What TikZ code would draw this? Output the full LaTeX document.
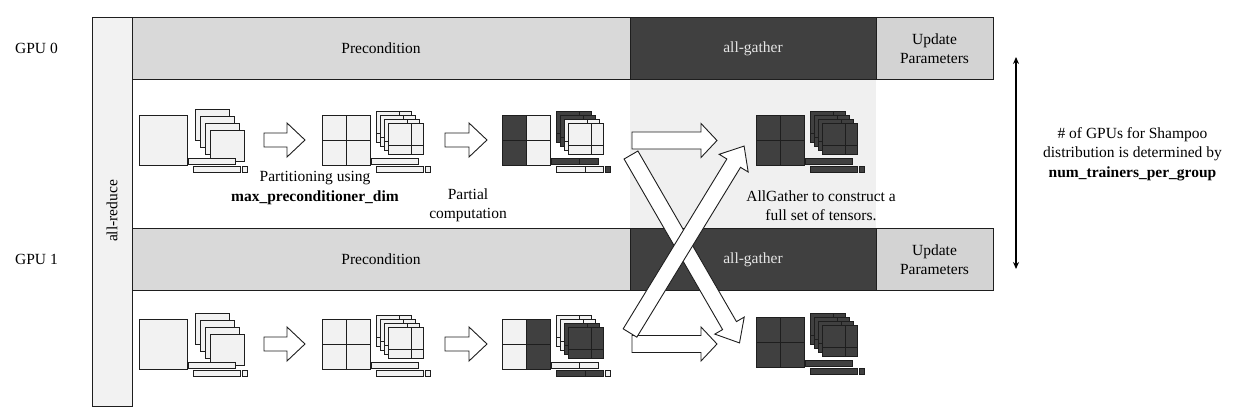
\documentclass[tikz,border=0pt]{standalone}
\usepackage{fontspec}
\setmainfont{Liberation Serif}
\usetikzlibrary{arrows.meta}
\definecolor{lt}{HTML}{F2F2F2}
\definecolor{dk}{HTML}{404040}
\definecolor{bandc}{HTML}{D9D9D9}
\definecolor{updc}{HTML}{D3D3D3}
\definecolor{regc}{HTML}{F0F0F0}
\definecolor{edge}{HTML}{1E1E1E}
\definecolor{agtext}{HTML}{E6E6E6}
\tikzset{
  box/.style={draw=edge,line width=0.9pt},
  lab/.style={font=\fontsize{15.5}{19.5}\selectfont, align=center, inner sep=0pt},
  blk/.style={draw=edge, fill=white, line width=0.9pt, line join=miter},
}
% block arrow: x y angle length bodyhalf headhalf headlen
\newcommand{\barrow}[7]{%
  \begin{scope}[shift={(#1,#2)},rotate=#3]
    \draw[blk] (0,-#5) -- ({#4-#7},-#5) -- ({#4-#7},-#6) -- (#4,0) -- ({#4-#7},#6) -- ({#4-#7},#5) -- (0,#5) -- cycle;
  \end{scope}}
% bars: X Y c1 c2 csmall
\newcommand{\tbars}[5]{%
  \draw[box,fill=#3] (#1+49,#2-0.5) rectangle (#1+96,#2-6.5);
  \draw[box,fill=#4] (#1+54,#2+7) rectangle (#1+101,#2+1);
  \draw[box,fill=#5] (#1+103,#2+7) rectangle (#1+108,#2+1);}
\newcommand{\tbarsplit}[2]{%
  \draw[box] (#1+77,#2-0.5) -- (#1+77,#2-6.5);
  \draw[box] (#1+83,#2+7) -- (#1+83,#2+1);}
% big square plain
\newcommand{\bigplain}[2]{\draw[box,fill=lt] (#1,#2) rectangle (#1+48,#2-50);}
% big square quadrants: X Y leftcolour rightcolour
\newcommand{\bigq}[4]{%
  \draw[box,fill=#3] (#1,#2) rectangle (#1+24,#2-50);
  \draw[box,fill=#4] (#1+24,#2) rectangle (#1+48,#2-50);
  \draw[box] (#1,#2-25) -- (#1+48,#2-25);}
% plain stack
\newcommand{\plstack}[2]{%
  \foreach \i in {0,...,3}{\draw[box,fill=lt] ({#1+56+5.3*\i},{#2-25+7*\i}) rectangle ++(34,-31);}}
% partitioned square
\newcommand{\psq}[3]{%
  \draw[box,fill=#3] (#1,#2) rectangle ++(35,-31);
  \draw[box] (#1+23,#2) -- ++(0,-31);
  \draw[box] (#1,#2-9) -- ++(35,0);}
\newcommand{\pstack}[6]{%
  \psq{#1+54}{#2-23}{#3}\psq{#1+58.3}{#2-18.7}{#4}\psq{#1+62.6}{#2-14.4}{#5}\psq{#1+66.9}{#2-10.1}{#6}}

\begin{document}
\begin{tikzpicture}[x=1pt,y=-1pt]
\useasboundingbox (0,0) rectangle (1238,419);
% light region of all-gather column
\fill[regc] (630,80) rectangle (876,228);
% all-reduce column
\draw[box,fill=lt] (92,17) rectangle (132,406);
\node[lab,rotate=90] (ar) at (112,211) {all-reduce};
% bands
\foreach \y/\g in {17/0,228/1}{
  \draw[box,fill=bandc] (132,\y) rectangle (630,\y+62.5);
  \draw[box,fill=dk] (630,\y) rectangle (876,\y+62.5);
  \draw[box,fill=updc] (876,\y) rectangle (993,\y+62.5);
  \node[lab] (pre\g) at (381,\y+31.5) {Precondition};
  \node[lab,text=agtext] (ag\g) at (753,\y+31.5) {all-gather};
  \node[lab] (up\g) at (934.5,\y+31.5) {Update\\Parameters};
  \node[lab] (gpu\g) at (36.5,\y+31.5) {GPU \g};
}
% GPU 0 tensors
\bigplain{139}{165}\plstack{139}{165}\tbars{139}{165}{lt}{lt}{lt}
\bigq{322}{165}{lt}{lt}\pstack{322}{165}{lt}{lt}{lt}{lt}\tbars{322}{165}{lt}{lt}{lt}
\bigq{502}{165}{dk}{lt}\pstack{502}{165}{dk}{dk}{lt}{lt}\tbars{502}{165}{dk}{lt}{dk}\tbarsplit{502}{165}
\bigq{756}{165}{dk}{dk}\pstack{756}{165}{dk}{dk}{dk}{dk}\tbars{756}{165}{dk}{dk}{dk}
% GPU 1 tensors
\bigplain{139}{369}\plstack{139}{369}\tbars{139}{369}{lt}{lt}{lt}
\bigq{322}{369}{lt}{lt}\pstack{322}{369}{lt}{lt}{lt}{lt}\tbars{322}{369}{lt}{lt}{lt}
\bigq{502}{369}{lt}{dk}\pstack{502}{369}{lt}{lt}{dk}{dk}\tbars{502}{369}{lt}{dk}{lt}\tbarsplit{502}{369}
\bigq{756}{367}{dk}{dk}\pstack{756}{367}{dk}{dk}{dk}{dk}\tbars{756}{367}{dk}{dk}{dk}
% block arrows
\barrow{264}{140}{0}{41}{7}{17}{18}
\barrow{445}{140}{0}{42}{7}{17}{18}
\barrow{264}{344}{0}{41}{7}{17}{18}
\barrow{445}{344}{0}{42}{7}{17}{18}
\barrow{632}{140.5}{0}{85}{8.5}{17}{16}
\barrow{632}{344}{0}{85}{8.5}{17}{16}
\barrow{631}{155}{-60}{217}{8}{17}{20}
\barrow{630}{333}{58.6}{219}{8}{17}{20}
% labels
\node[lab] (tpart) at (315,188) {Partitioning using\\\textbf{max\_preconditioner\_dim}};
\node[lab] (tpc) at (468,205.5) {Partial\\computation};
\node[lab] (tag) at (821,205.5) {AllGather to construct a\\full set of tensors.};
\node[lab] (tright) at (1132.5,154) {\# of GPUs for Shampoo\\distribution is determined by\\\textbf{num\_trainers\_per\_group}};
% double arrow
\coordinate (dtop) at (1016,57);
\coordinate (dbot) at (1016,269);
\draw[line width=1.1pt,{Stealth[length=7pt,width=6pt]}-{Stealth[length=7pt,width=6pt]}] (dtop) -- (dbot);
\end{tikzpicture}
\end{document}
